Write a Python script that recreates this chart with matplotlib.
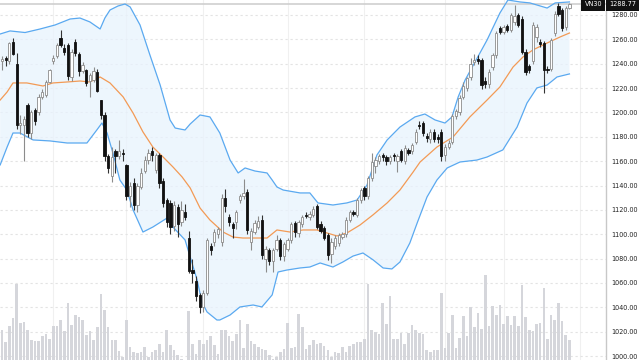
import numpy as np
import matplotlib
matplotlib.use('Agg')
import matplotlib.pyplot as plt
import matplotlib.transforms as mtransforms

# daily candles, VN30 (index = trading day)
opens = [1242, 1244.5, 1242, 1258, 1240, 1190, 1190, 1206, 1183, 1202,
         1200, 1213, 1214, 1225, 1242, 1246, 1261, 1253, 1255, 1229,
         1258, 1248, 1234, 1235, 1226, 1227, 1233, 1210, 1198, 1164,
         1148, 1168, 1164, 1167, 1157, 1131, 1142, 1124, 1139, 1152,
         1161, 1168, 1153, 1165, 1144, 1128, 1126, 1107, 1122, 1110,
         1118, 1097, 1071, 1062, 1050, 1040, 1052, 1090, 1094, 1100,
         1094, 1130, 1114, 1108, 1110, 1128, 1131, 1135, 1094, 1102,
         1106, 1112, 1080, 1087, 1078, 1088, 1095, 1082, 1088, 1095,
         1109, 1101, 1108, 1116, 1114, 1116, 1123, 1108, 1105, 1099,
         1084, 1090, 1093, 1098, 1100, 1112, 1118, 1116, 1128, 1138,
         1131, 1146, 1156, 1160, 1165, 1163, 1160, 1165, 1160, 1168,
         1160, 1169, 1168, 1176, 1190, 1191, 1181, 1178, 1184, 1180,
         1184, 1165, 1172, 1176, 1197, 1200, 1213, 1220, 1229, 1241,
         1244, 1243, 1226, 1223, 1237, 1247, 1269, 1266, 1271, 1268,
         1274, 1280, 1277, 1250, 1238, 1242, 1262, 1258, 1257, 1236,
         1236, 1265, 1287, 1284, 1270, 1286]
highs = [1246, 1246, 1258, 1261, 1249, 1198, 1197, 1208, 1202, 1204,
         1215, 1219, 1227, 1236, 1247, 1257, 1268, 1256, 1257, 1252,
         1260, 1250, 1241, 1236, 1232, 1237, 1236, 1210, 1200, 1166,
         1172, 1170, 1177, 1170, 1158, 1143, 1146, 1142, 1154, 1164,
         1170, 1172, 1167, 1167, 1146, 1130, 1128, 1127, 1125, 1127,
         1125, 1103, 1080, 1066, 1052, 1054, 1097, 1093, 1104, 1106,
         1133, 1137, 1117, 1110, 1120, 1133, 1145, 1137, 1105, 1112,
         1115, 1116, 1090, 1089, 1089, 1099, 1097, 1094, 1097, 1110,
         1111, 1112, 1116, 1118, 1119, 1123, 1125, 1111, 1107, 1101,
         1097, 1099, 1101, 1102, 1114, 1120, 1120, 1130, 1138, 1140,
         1148, 1167, 1163, 1166, 1167, 1165, 1165, 1167, 1166, 1170,
         1173, 1171, 1175, 1186, 1193, 1193, 1183, 1186, 1186, 1182,
         1186, 1174, 1177, 1199, 1203, 1214, 1225, 1229, 1245, 1248,
         1247, 1245, 1229, 1236, 1249, 1267, 1271, 1272, 1273, 1282,
         1288, 1282, 1279, 1252, 1240, 1274, 1273, 1260, 1259, 1238,
         1261, 1283, 1290, 1286, 1287, 1290]
lows = [1235, 1238, 1240, 1247, 1186, 1182, 1160, 1180, 1178, 1190,
        1198, 1211, 1213, 1224, 1240, 1245, 1254, 1247, 1227, 1226,
        1246, 1230, 1232, 1222, 1213, 1225, 1217, 1195, 1160, 1150,
        1143, 1150, 1162, 1160, 1128, 1122, 1120, 1118, 1137, 1150,
        1158, 1160, 1150, 1138, 1122, 1106, 1100, 1103, 1098, 1107,
        1112, 1068, 1060, 1045, 1035, 1036, 1050, 1083, 1090, 1097,
        1090, 1118, 1107, 1097, 1104, 1126, 1129, 1100, 1087, 1100,
        1104, 1080, 1069, 1075, 1069, 1086, 1079, 1078, 1086, 1093,
        1098, 1098, 1106, 1113, 1112, 1114, 1104, 1101, 1095, 1079,
        1076, 1088, 1090, 1096, 1098, 1110, 1115, 1114, 1126, 1128,
        1129, 1144, 1150, 1158, 1160, 1157, 1158, 1160, 1151, 1159,
        1158, 1165, 1166, 1174, 1186, 1181, 1176, 1175, 1176, 1175,
        1160, 1160, 1170, 1174, 1195, 1198, 1211, 1218, 1227, 1239,
        1240, 1219, 1220, 1220, 1235, 1245, 1264, 1264, 1266, 1266,
        1272, 1270, 1248, 1231, 1232, 1240, 1258, 1254, 1216, 1232,
        1234, 1263, 1279, 1267, 1268, 1285]
closes = [1244, 1243, 1257, 1248, 1190, 1191, 1195, 1183, 1200, 1193,
          1213, 1217, 1225, 1235, 1245, 1255, 1255.5, 1250, 1229.5, 1250,
          1249, 1234, 1239, 1224, 1231, 1234, 1218, 1198, 1164, 1154,
          1163, 1164, 1168, 1166, 1131, 1140, 1124, 1140, 1150, 1161,
          1167, 1165, 1165, 1142, 1126, 1110, 1106, 1124, 1108, 1120,
          1114, 1070, 1068, 1049, 1040, 1052, 1095, 1087, 1102, 1104,
          1130, 1123, 1110, 1105, 1118, 1131, 1134, 1103.5, 1103, 1109,
          1111, 1083, 1088, 1078, 1087, 1095, 1082, 1092, 1095, 1108,
          1102, 1110, 1114, 1115, 1117, 1121, 1106, 1103, 1097, 1083,
          1094, 1097, 1099, 1100, 1112, 1118, 1117, 1128, 1136, 1131,
          1146, 1159, 1161, 1164, 1163, 1160, 1163, 1164, 1164, 1161,
          1171, 1167, 1173, 1184, 1189, 1183, 1179, 1184, 1178, 1178,
          1164, 1172, 1175, 1197, 1201, 1212, 1222, 1228, 1240, 1243,
          1242, 1222.5, 1223, 1233.5, 1247, 1265, 1266, 1270, 1268, 1280,
          1279, 1272, 1250, 1233.5, 1235, 1272, 1270, 1256.5, 1235, 1234.5,
          1259.5, 1281, 1281, 1269, 1285.5, 1288.77]
volumes = [60, 37, 68, 84, 152, 75, 77, 60, 40, 39,
           39, 49, 52, 42, 69, 69, 80, 58, 115, 71,
           91, 87, 80, 50, 58, 41, 67, 132, 101, 67,
           41, 41, 18, 7, 80, 27, 17, 15, 17, 27,
           7, 17, 20, 32, 17, 61, 30, 20, 11, 3,
           1, 98, 33, 13, 41, 32, 41, 48, 30, 13,
           61, 60, 48, 39, 53, 80, 25, 73, 39, 33,
           27, 23, 20, 10, 3, 7, 17, 23, 75, 25,
           27, 92, 67, 23, 30, 40, 32, 35, 28, 20,
           7, 17, 15, 27, 17, 28, 33, 37, 37, 43,
           152, 60, 57, 53, 115, 73, 128, 43, 43, 55,
           33, 55, 70, 60, 54, 53, 20, 17, 21, 21,
           135, 25, 55, 90, 25, 45, 88, 49, 106, 67,
           95, 62, 171, 69, 109, 91, 111, 72, 88, 70,
           88, 69, 150, 86, 60, 58, 73, 75, 144, 43,
           90, 80, 115, 79, 50, 40]

# Bollinger bands (20, 2)
upper_x = [-0.5, 2.2, 6.3, 10.4, 14.5, 18.6, 21.3, 24.0, 26.8, 28.1, 29.5, 31.7,
           33.6, 35.0, 37.7, 40.4, 43.2, 45.9, 47.3, 48.6, 50.0, 51.4, 54.1, 56.8,
           59.5, 62.3, 64.5, 66.4, 69.1, 72.4, 73.8, 75.1, 76.8, 81.4, 84.1, 86.3,
           90.4, 94.2, 97.0, 99.7, 102.4, 105.2, 108.7, 112.8, 115.5, 118.3, 121.0,
           122.9, 124.6, 126.5, 129.2, 132.5, 136.0, 138.2, 141.5, 144.2, 147.0,
           148.9, 151.1, 155.0]
upper = [1264.4, 1266.9, 1265.6, 1268.5, 1271.8, 1276.7, 1277.5, 1274.3, 1268.5,
         1277.5, 1284.1, 1287.4, 1289.0, 1286.6, 1271.8, 1247.2, 1222.5, 1193.8,
         1187.2, 1186.4, 1185.6, 1190.5, 1197.9, 1196.3, 1183.1, 1160.9, 1150.3,
         1154.4, 1151.9, 1150.3, 1144.5, 1138.8, 1136.3, 1133.9, 1133.9, 1125.7,
         1124.0, 1125.7, 1128.1, 1140.4, 1165.0, 1177.4, 1188.0, 1196.3, 1198.7,
         1193.8, 1191.3, 1196.3, 1212.7, 1226.6, 1241.4, 1259.5, 1281.6, 1292.3,
         1290.7, 1289.9, 1287.4, 1285.7, 1289.9, 1290.7]
mid_x = [-0.5, 1.4, 3.0, 6.8, 11.2, 13.9, 17.8, 21.3, 24.0, 26.8, 29.5, 33.1,
         35.8, 38.5, 41.2, 44.0, 46.7, 49.2, 51.4, 54.1, 56.8, 60.4, 63.1, 65.8,
         69.7, 72.4, 75.1, 78.7, 82.2, 86.0, 88.8, 91.5, 94.2, 97.8, 101.3, 105.2,
         108.7, 112.3, 114.2, 118.8, 123.2, 127.8, 132.5, 136.0, 139.6, 142.3,
         145.0, 148.9, 152.4, 155.0]
mid = [1210.2, 1216.8, 1224.2, 1224.2, 1221.7, 1224.2, 1225.0, 1225.8, 1225.0,
       1229.1, 1224.2, 1212.7, 1199.5, 1184.0, 1171.6, 1163.4, 1155.2, 1147.0,
       1138.0, 1121.5, 1111.7, 1101.8, 1097.7, 1096.9, 1096.9, 1096.9, 1103.5,
       1101.8, 1103.5, 1103.5, 1101.0, 1098.6, 1101.0, 1107.6, 1115.8, 1125.7,
       1136.3, 1151.1, 1159.3, 1171.6, 1179.8, 1196.3, 1210.2, 1220.9, 1237.3,
       1245.5, 1251.3, 1257.0, 1261.9, 1265.2]
lower_x = [-0.5, 1.4, 3.0, 4.9, 8.5, 13.1, 17.8, 23.2, 25.9, 27.3, 28.7, 30.3,
           32.2, 34.1, 35.8, 38.5, 41.2, 45.1, 46.7, 50.0, 51.9, 53.3, 54.6, 56.0,
           58.7, 59.5, 62.3, 65.0, 68.6, 71.0, 73.8, 75.4, 77.8, 81.4, 84.1, 86.9,
           90.4, 93.1, 95.9, 98.6, 101.3, 104.1, 106.5, 108.7, 111.4, 113.4, 116.1,
           118.8, 121.6, 125.1, 129.7, 132.5, 136.8, 140.7, 143.4, 146.1, 148.9,
           151.6, 155.0]
lower = [1156.9, 1171.6, 1183.1, 1183.1, 1177.4, 1176.6, 1174.9, 1174.9, 1185.6,
         1191.3, 1183.1, 1166.7, 1144.5, 1136.3, 1120.0, 1101.8, 1105.9, 1113.3,
         1105.9, 1095.3, 1076.4, 1062.4, 1044.4, 1036.2, 1029.6, 1029.6, 1033.7,
         1040.3, 1041.9, 1040.3, 1050.2, 1069.0, 1070.6, 1072.3, 1073.1, 1076.4,
         1073.1, 1077.2, 1082.1, 1084.6, 1079.1, 1072.3, 1071.5, 1077.2, 1092.8,
         1109.2, 1130.6, 1144.5, 1154.4, 1159.3, 1160.9, 1163.4, 1169.2, 1188.0,
         1207.7, 1220.1, 1222.5, 1229.1, 1231.6]

price_ticks = [1000, 1020, 1040, 1060, 1080, 1100, 1120, 1140, 1160, 1180,
               1200, 1220, 1240, 1260, 1280]
month_starts = [14, 34, 55, 78, 99, 121, 137, 158]
symbol = 'VN30'
last_price = closes[-1]

fig = plt.figure(figsize=(6.4, 3.6), dpi=100)
ax_v = fig.add_axes([0, 0, 606 / 640, 1])
ax = fig.add_axes([0, 0, 606 / 640, 1], sharex=ax_v)
ax.patch.set_alpha(0)

idx = np.arange(len(closes))
o = np.array(opens)
c = np.array(closes)
up = c >= o

# volume
ax_v.bar(idx, volumes, width=0.72, color='#d5d6db', zorder=2)
ax_v.set_ylim(0, 720)
ax_v.set_yticks([])
for x in month_starts:
    ax_v.axvline(x, color='#f0f0f0', lw=0.8, zorder=0)
for p in price_ticks:
    ax_v.axhline((p - 996.75) / (1292.3 - 996.75) * 720, color='#e3e3e3',
                 lw=0.8, ls=(0, (2, 2.5)), zorder=0)

# bollinger bands
ax.fill(np.concatenate([upper_x, lower_x[::-1]]),
        np.concatenate([upper, lower[::-1]]),
        color='#e8f3fd', alpha=0.75, lw=0, zorder=1)
ax.plot(upper_x, upper, color='#5aa9f0', lw=0.9, zorder=2)
ax.plot(lower_x, lower, color='#5aa9f0', lw=0.9, zorder=2)
ax.plot(mid_x, mid, color='#f39a55', lw=0.9, zorder=2)

# candles
ax.vlines(idx[up], np.array(lows)[up], np.array(highs)[up], color='#8c8c8c', lw=0.8, zorder=3)
ax.vlines(idx[~up], np.array(lows)[~up], np.array(highs)[~up], color='#333333', lw=0.8, zorder=3)
body = np.maximum(np.abs(c - o), 0.8)
ax.bar(idx[up], body[up], bottom=np.minimum(o, c)[up], width=0.62,
       color='white', edgecolor='#8c8c8c', lw=0.6, zorder=4)
ax.bar(idx[~up], body[~up], bottom=np.minimum(o, c)[~up], width=0.62,
       color='#111111', edgecolor='#111111', lw=0.6, zorder=4)

# last price line
ax.axhline(last_price, color='#cfcfcf', lw=1.2, zorder=1)

ax.set_xlim(-2 / 3.661, 604 / 3.661)
ax.set_ylim(996.75, 1292.3)
ax.yaxis.tick_right()
ax.set_yticks(price_ticks)
ax.set_yticklabels([f'{p:.2f}' for p in price_ticks], fontsize=4.7, color='#222222')
ax.tick_params(axis='y', length=0, pad=4)
ax.set_xticks([])
for s in ['top', 'left', 'bottom']:
    ax.spines[s].set_visible(False)
    ax_v.spines[s].set_visible(False)
ax_v.spines['right'].set_visible(False)
ax.spines['right'].set_color('#c8c8c8')
ax.spines['right'].set_linewidth(1.0)

trans = mtransforms.blended_transform_factory(ax.transAxes, ax.transData)
ax.text(1.0 + 3 / 606, last_price, f'{last_price:.2f}', transform=trans,
        fontsize=4.7, color='white', va='center', ha='left', clip_on=False,
        bbox=dict(boxstyle='square,pad=0.5', fc='#111111', ec='none'), zorder=10)
ax.text(1.0 - 4 / 606, last_price, symbol, transform=trans,
        fontsize=4.7, color='white', va='center', ha='right', clip_on=False,
        bbox=dict(boxstyle='square,pad=0.5', fc='#111111', ec='none'), zorder=10)

fig.savefig('out.png', dpi=100)
